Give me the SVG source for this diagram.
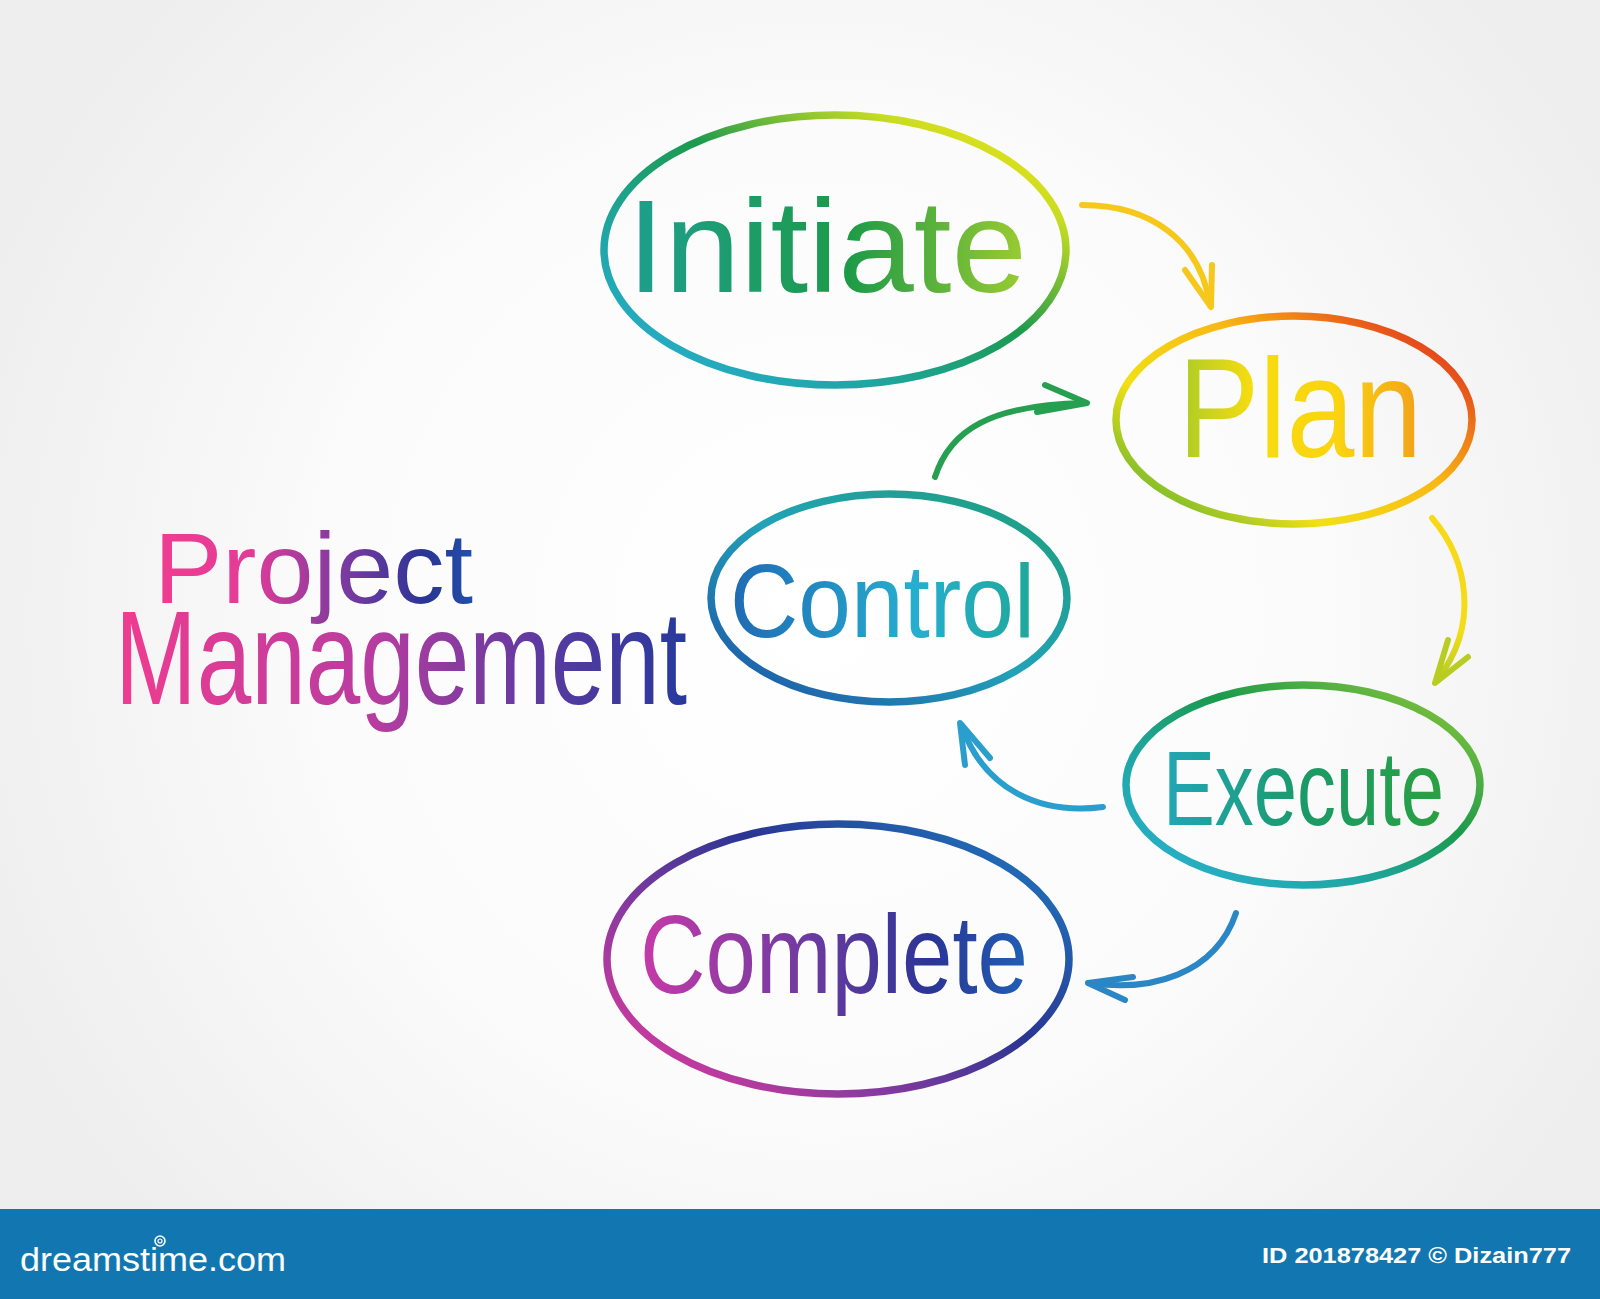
<svg xmlns="http://www.w3.org/2000/svg" width="1600" height="1299" viewBox="0 0 1600 1299">
<defs>
<radialGradient id="bg" cx="820" cy="620" r="900" gradientUnits="userSpaceOnUse">
<stop offset="0" stop-color="#ffffff"/><stop offset="0.55" stop-color="#fbfbfb"/><stop offset="1" stop-color="#eeeeee"/>
</radialGradient>
<linearGradient id="gInitE" x1="0" y1="1" x2="1" y2="0">
<stop offset="0" stop-color="#28b0dc"/><stop offset="0.3" stop-color="#1fa5a0"/><stop offset="0.55" stop-color="#1c9a4e"/><stop offset="0.8" stop-color="#c8dc20"/><stop offset="1" stop-color="#ffe812"/>
</linearGradient>
<linearGradient id="gInitT" x1="0" y1="0" x2="1" y2="0">
<stop offset="0" stop-color="#1e9f8e"/><stop offset="0.55" stop-color="#1c9a48"/><stop offset="1" stop-color="#9ccc30"/>
</linearGradient>
<linearGradient id="gPlanE" x1="0" y1="1" x2="1" y2="0.2">
<stop offset="0" stop-color="#3aa83a"/><stop offset="0.35" stop-color="#f2e014"/><stop offset="0.65" stop-color="#f8b814"/><stop offset="1" stop-color="#e2361c"/>
</linearGradient>
<linearGradient id="gPlanT" x1="0" y1="0" x2="1" y2="0">
<stop offset="0" stop-color="#a8cc28"/><stop offset="0.3" stop-color="#f6dc10"/><stop offset="0.65" stop-color="#fad410"/><stop offset="1" stop-color="#f3a01a"/>
</linearGradient>
<linearGradient id="gCtrlE" x1="0" y1="1" x2="1" y2="0">
<stop offset="0" stop-color="#1d4fa8"/><stop offset="0.5" stop-color="#22a2b8"/><stop offset="1" stop-color="#1d9f78"/>
</linearGradient>
<linearGradient id="gCtrlT" x1="0" y1="0" x2="1" y2="0">
<stop offset="0" stop-color="#1f6ab4"/><stop offset="0.6" stop-color="#26aed0"/><stop offset="1" stop-color="#1fa898"/>
</linearGradient>
<linearGradient id="gExecE" x1="0" y1="1" x2="1" y2="0">
<stop offset="0" stop-color="#2ab4d8"/><stop offset="0.35" stop-color="#1fa5a0"/><stop offset="0.6" stop-color="#1a9a4c"/><stop offset="1" stop-color="#9acc36"/>
</linearGradient>
<linearGradient id="gExecT" x1="0" y1="0" x2="1" y2="0">
<stop offset="0" stop-color="#21a7b8"/><stop offset="0.5" stop-color="#1a9a68"/><stop offset="1" stop-color="#2aa040"/>
</linearGradient>
<linearGradient id="gCompE" x1="0" y1="1" x2="1" y2="0.2">
<stop offset="0" stop-color="#ee3a9c"/><stop offset="0.35" stop-color="#8a3aa0"/><stop offset="0.65" stop-color="#2a3592"/><stop offset="1" stop-color="#1f72ba"/>
</linearGradient>
<linearGradient id="gCompT" x1="0" y1="0" x2="1" y2="0">
<stop offset="0" stop-color="#c63aa8"/><stop offset="0.45" stop-color="#6a3aa0"/><stop offset="0.75" stop-color="#2a3596"/><stop offset="1" stop-color="#2060b4"/>
</linearGradient>
<linearGradient id="gPM" x1="0" y1="0" x2="1" y2="0">
<stop offset="0" stop-color="#f03c90"/><stop offset="0.3" stop-color="#e23c98"/><stop offset="0.6" stop-color="#7a3aa0"/><stop offset="0.85" stop-color="#2a3596"/><stop offset="1" stop-color="#2050a8"/>
</linearGradient>
<linearGradient id="gPM2" x1="0" y1="0" x2="1" y2="0">
<stop offset="0" stop-color="#f03c90"/><stop offset="0.45" stop-color="#b83ca0"/><stop offset="0.75" stop-color="#5a3aa0"/><stop offset="1" stop-color="#263a9c"/>
</linearGradient>
<linearGradient id="gA2" x1="0" y1="0" x2="0" y2="1">
<stop offset="0" stop-color="#f8d818"/><stop offset="0.7" stop-color="#f4dc18"/><stop offset="1" stop-color="#b4cc24"/>
</linearGradient>
</defs>
<style>
.ell{fill:none;stroke-width:7.5}
.lbl{font-family:"Liberation Sans","DejaVu Sans",sans-serif;}
.arr{fill:none;stroke-width:6;stroke-linecap:round;stroke-linejoin:round}
.foot{font-family:"Liberation Sans",Arial,sans-serif;fill:#ffffff}
</style>
<rect x="0" y="0" width="1600" height="1299" fill="url(#bg)"/>

<g id="title">
<text class="lbl" x="154" y="603" font-size="100" fill="url(#gPM)" textLength="319" lengthAdjust="spacingAndGlyphs">Project</text>
<text class="lbl" transform="translate(115,704) scale(1,1.37)" x="0" y="0" font-size="98" fill="url(#gPM2)" textLength="572" lengthAdjust="spacingAndGlyphs">Management</text>
</g>

<g id="node-initiate">
<ellipse class="ell" cx="835" cy="250" rx="231" ry="135" stroke="url(#gInitE)"/>
<text class="lbl" x="627" y="292" font-size="132" fill="url(#gInitT)" textLength="400" lengthAdjust="spacingAndGlyphs">Initiate</text>
</g>

<g id="node-plan">
<ellipse class="ell" cx="1294" cy="420" rx="178" ry="104" stroke="url(#gPlanE)"/>
<text class="lbl" transform="translate(1178,457) scale(1,1.15)" x="0" y="0" font-size="122" fill="url(#gPlanT)" textLength="244" lengthAdjust="spacingAndGlyphs">Plan</text>
</g>

<g id="node-control">
<ellipse class="ell" cx="889" cy="598" rx="178" ry="104" stroke="url(#gCtrlE)"/>
<text class="lbl" transform="translate(730,637) scale(1,1.09)" x="0" y="0" font-size="95" fill="url(#gCtrlT)" textLength="305" lengthAdjust="spacingAndGlyphs">Control</text>
</g>

<g id="node-execute">
<ellipse class="ell" cx="1303" cy="785" rx="177" ry="100" stroke="url(#gExecE)"/>
<text class="lbl" transform="translate(1163,825) scale(1,1.36)" x="0" y="0" font-size="78" fill="url(#gExecT)" textLength="281" lengthAdjust="spacingAndGlyphs">Execute</text>
</g>

<g id="node-complete">
<ellipse class="ell" cx="838" cy="959" rx="231" ry="135" stroke="url(#gCompE)"/>
<text class="lbl" transform="translate(640,993) scale(1,1.23)" x="0" y="0" font-size="91" fill="url(#gCompT)" textLength="388" lengthAdjust="spacingAndGlyphs">Complete</text>
</g>

<g id="connectors">
<g stroke="#f7c81c" class="arr">
<path d="M1082,205 C1150,205 1200,240 1210,305"/>
<path d="M1185,270 L1211,307 L1212,265"/>
</g>
<g stroke="url(#gA2)" class="arr">
<path d="M1432,518 C1468,560 1480,625 1437,680"/>
</g>
<path class="arr" stroke="#b8cc22" d="M1448,640 L1435,683 L1468,657"/>
<g stroke="#2a9ecc" class="arr">
<path d="M1103,807 C1040,815 985,790 962,727"/>
<path d="M965,765 L960,723 L990,758"/>
</g>
<g stroke="#2a86c4" class="arr">
<path d="M1236,913 C1215,975 1150,992 1090,983"/>
<path d="M1133,977 L1088,983 L1125,1000"/>
</g>
<g stroke="#26a050" class="arr">
<path d="M935,477 C950,430 990,405 1085,403"/>
<path d="M1045,385 L1087,403 L1037,412"/>
</g>
</g>

<g id="footer">
<rect x="0" y="1209" width="1600" height="90" fill="#1277b0"/>
<text class="foot" x="20" y="1271" font-size="33" textLength="266" lengthAdjust="spacingAndGlyphs">dreamstime.com</text>
<circle cx="160" cy="1241" r="5" fill="none" stroke="#ffffff" stroke-width="1.6"/>
<circle cx="160" cy="1241" r="2" fill="none" stroke="#ffffff" stroke-width="1.2"/>
<text class="foot" x="1262" y="1263" font-size="22" font-weight="bold" textLength="309" lengthAdjust="spacingAndGlyphs">ID 201878427 © Dizain777</text>
</g>
</svg>
